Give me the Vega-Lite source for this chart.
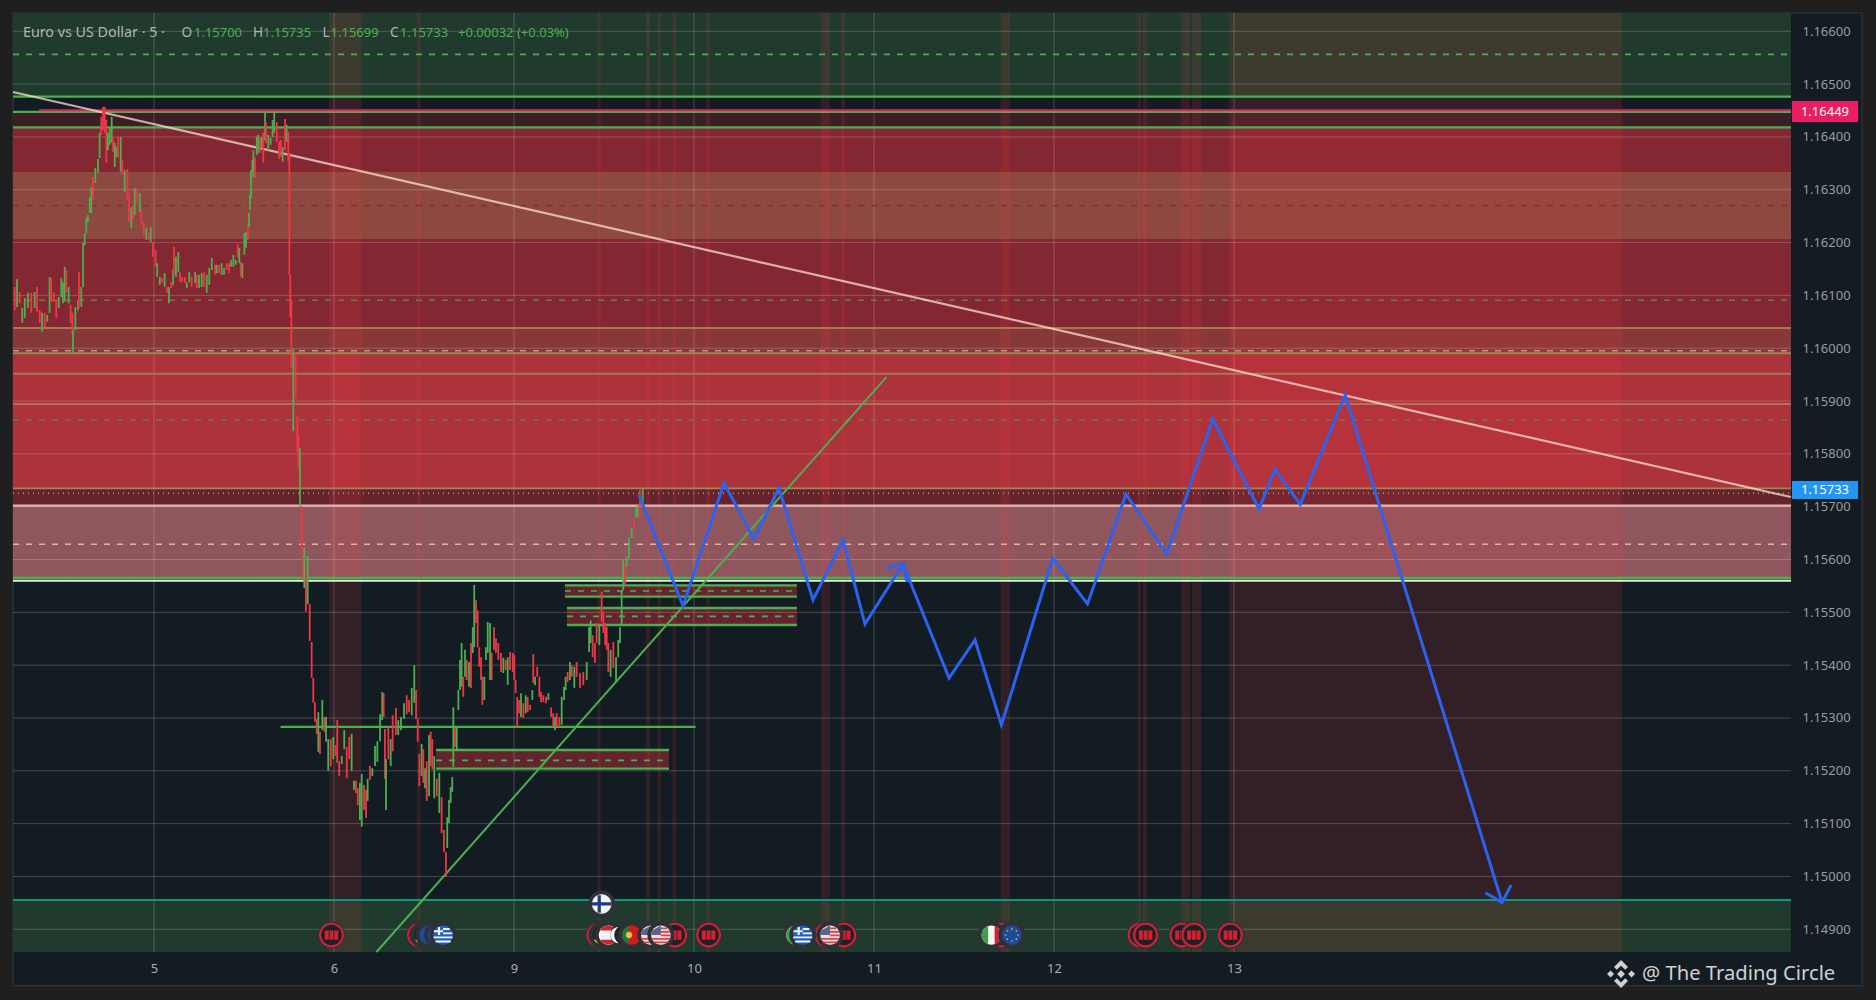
{
"$schema":"https://vega.github.io/schema/vega-lite/v6.json",
"width":1778,"height":939,
"autosize":"none",
"padding":{"left":13,"top":13,"right":85,"bottom":48},
"background":"#1f1f1f",
"config":{"view":{"stroke":null},"font":"Noto Sans"},
"resolve":{"scale":{"color":"independent"}},
"datasets":{
"panel":[{"x1":-0.7833,"x2":9.489,"y1":1.166346,"y2":1.14793}],
"zones":[
{"x1":-0.7833,"x2":9.0944,"y1":1.166346,"y2":1.164762,"zone":"green"},
{"x1":-0.7833,"x2":9.0944,"y1":1.164473,"y2":1.16418,"zone":"dark"},
{"x1":-0.7833,"x2":9.0944,"y1":1.16418,"y2":1.163337,"zone":"red"},
{"x1":-0.7833,"x2":9.0944,"y1":1.163337,"y2":1.162068,"zone":"tan"},
{"x1":-0.7833,"x2":9.0944,"y1":1.162068,"y2":1.160383,"zone":"red"},
{"x1":-0.7833,"x2":9.0944,"y1":1.160383,"y2":1.159904,"zone":"mid"},
{"x1":-0.7833,"x2":9.0944,"y1":1.159904,"y2":1.157348,"zone":"bright"},
{"x1":-0.7833,"x2":9.0944,"y1":1.157348,"y2":1.15702,"zone":"wine"},
{"x1":-0.7833,"x2":9.0944,"y1":1.15702,"y2":1.15565,"zone":"pink"},
{"x1":-0.7833,"x2":9.0944,"y1":1.149554,"y2":1.14857,"zone":"green"},
{"x1":2.283,"x2":3.572,"y1":1.155512,"y2":1.155296,"zone":"wine"},
{"x1":2.294,"x2":3.572,"y1":1.155082,"y2":1.15476,"zone":"wine"},
{"x1":1.567,"x2":2.861,"y1":1.152394,"y2":1.15204,"zone":"wine"}
],
"sessions":[
{"x1":0.972,"x2":1.153},{"x1":1.461,"x2":1.481},{"x1":2.464,"x2":2.481},{"x1":2.733,"x2":2.756},
{"x1":2.797,"x2":2.817},{"x1":2.881,"x2":2.9},{"x1":3.069,"x2":3.089},{"x1":3.706,"x2":3.756},
{"x1":3.817,"x2":3.839},{"x1":4.704,"x2":4.756},{"x1":5.465,"x2":5.483},{"x1":5.494,"x2":5.517},
{"x1":5.706,"x2":5.756},{"x1":5.767,"x2":5.817},{"x1":5.972,"x2":8.156}
],
"pricegrid":[{"p":1.149},{"p":1.15},{"p":1.151},{"p":1.152},{"p":1.153},{"p":1.154},{"p":1.155},{"p":1.156},{"p":1.157},{"p":1.158},{"p":1.159},{"p":1.16},{"p":1.161},{"p":1.162},{"p":1.163},{"p":1.164},{"p":1.165},{"p":1.166}],
"daygrid":[{"t":0},{"t":1},{"t":2},{"t":3},{"t":4},{"t":5},{"t":6}],
"levels":[
{"x1":-0.7833,"x2":9.0944,"p":1.164762,"kind":"green"},
{"x1":-0.7833,"x2":9.0944,"p":1.164473,"kind":"thin"},
{"x1":-0.7833,"x2":9.0944,"p":1.16418,"kind":"thin"},
{"x1":-0.639,"x2":9.0944,"p":1.164505,"kind":"pink"},
{"x1":-0.7833,"x2":9.0944,"p":1.149554,"kind":"teal"},
{"x1":-0.7833,"x2":9.0944,"p":1.15702,"kind":"shell"},
{"x1":-0.7833,"x2":9.0944,"p":1.15565,"kind":"green"},
{"x1":-0.7833,"x2":9.0944,"p":1.1556,"kind":"mint"},
{"x1":-0.7833,"x2":9.0944,"p":1.160383,"kind":"tan"},
{"x1":-0.7833,"x2":9.0944,"p":1.159904,"kind":"olive"},
{"x1":-0.7833,"x2":9.0944,"p":1.159518,"kind":"tan"},
{"x1":-0.7833,"x2":9.0944,"p":1.158945,"kind":"tan"},
{"x1":-0.7833,"x2":9.0944,"p":1.157348,"kind":"olive"},
{"x1":-0.7833,"x2":9.0944,"p":1.157254,"kind":"dot"},
{"x1":-0.7833,"x2":9.0944,"p":1.165565,"kind":"dashgreen"},
{"x1":-0.7833,"x2":9.0944,"p":1.162699,"kind":"dashred"},
{"x1":-0.7833,"x2":9.0944,"p":1.160908,"kind":"dasholive"},
{"x1":-0.7833,"x2":9.0944,"p":1.158642,"kind":"dasholive"},
{"x1":-0.7833,"x2":9.0944,"p":1.159953,"kind":"dashrose"},
{"x1":-0.7833,"x2":9.0944,"p":1.15629,"kind":"dashpeach"},
{"x1":2.283,"x2":3.572,"p":1.155512,"kind":"green"},
{"x1":2.283,"x2":3.572,"p":1.155296,"kind":"green"},
{"x1":2.283,"x2":3.572,"p":1.155404,"kind":"dashgreen"},
{"x1":2.294,"x2":3.572,"p":1.155082,"kind":"green"},
{"x1":2.294,"x2":3.572,"p":1.15476,"kind":"green"},
{"x1":2.294,"x2":3.572,"p":1.154925,"kind":"dashgreen"},
{"x1":1.567,"x2":2.861,"p":1.152394,"kind":"green"},
{"x1":1.567,"x2":2.861,"p":1.15204,"kind":"green"},
{"x1":1.567,"x2":2.861,"p":1.152199,"kind":"dashgreen"},
{"x1":0.703,"x2":3.009,"p":1.15283,"kind":"green"}
],
"resistance":[{"t":-0.7833,"p":1.164851},{"t":9.0944,"p":1.157183}],
"support":[{"t":1.236,"p":1.14857},{"t":4.07,"p":1.159459}],
"candles":[
{"t":-0.774,"hi":1.16116,"lo":1.16072,"dir":"d"},{"t":-0.761,"hi":1.16131,"lo":1.16078,"dir":"u"},{"t":-0.746,"hi":1.16106,"lo":1.16085,"dir":"d"},{"t":-0.732,"hi":1.16076,"lo":1.16048,"dir":"u"},{"t":-0.718,"hi":1.16095,"lo":1.16057,"dir":"u"},{"t":-0.7,"hi":1.16105,"lo":1.16076,"dir":"u"},{"t":-0.682,"hi":1.16105,"lo":1.16067,"dir":"d"},{"t":-0.663,"hi":1.16106,"lo":1.16076,"dir":"u"},{"t":-0.65,"hi":1.16116,"lo":1.16069,"dir":"d"},{"t":-0.635,"hi":1.16072,"lo":1.16048,"dir":"d"},
{"t":-0.622,"hi":1.16067,"lo":1.16031,"dir":"u"},{"t":-0.607,"hi":1.16067,"lo":1.1604,"dir":"d"},{"t":-0.593,"hi":1.16063,"lo":1.1605,"dir":"u"},{"t":-0.58,"hi":1.16135,"lo":1.16067,"dir":"u"},{"t":-0.571,"hi":1.16133,"lo":1.16088,"dir":"d"},{"t":-0.557,"hi":1.16106,"lo":1.16088,"dir":"d"},{"t":-0.543,"hi":1.16091,"lo":1.16057,"dir":"d"},{"t":-0.529,"hi":1.16097,"lo":1.16076,"dir":"u"},{"t":-0.515,"hi":1.16133,"lo":1.16097,"dir":"u"},{"t":-0.506,"hi":1.16125,"lo":1.16085,"dir":"u"},
{"t":-0.496,"hi":1.16154,"lo":1.16088,"dir":"u"},{"t":-0.487,"hi":1.16148,"lo":1.16105,"dir":"d"},{"t":-0.474,"hi":1.16116,"lo":1.16085,"dir":"u"},{"t":-0.463,"hi":1.16082,"lo":1.16048,"dir":"d"},{"t":-0.454,"hi":1.16067,"lo":1.16029,"dir":"d"},{"t":-0.45,"hi":1.16034,"lo":1.15991,"dir":"u"},{"t":-0.437,"hi":1.16078,"lo":1.16034,"dir":"u"},{"t":-0.422,"hi":1.16091,"lo":1.16072,"dir":"u"},{"t":-0.417,"hi":1.16144,"lo":1.16076,"dir":"d"},{"t":-0.404,"hi":1.16116,"lo":1.16078,"dir":"u"},
{"t":-0.394,"hi":1.16199,"lo":1.16116,"dir":"u"},{"t":-0.385,"hi":1.16218,"lo":1.16195,"dir":"u"},{"t":-0.376,"hi":1.16246,"lo":1.16218,"dir":"u"},{"t":-0.367,"hi":1.16252,"lo":1.16239,"dir":"u"},{"t":-0.357,"hi":1.16286,"lo":1.16256,"dir":"u"},{"t":-0.348,"hi":1.16305,"lo":1.16256,"dir":"u"},{"t":-0.339,"hi":1.16324,"lo":1.16281,"dir":"d"},{"t":-0.326,"hi":1.16341,"lo":1.16313,"dir":"u"},{"t":-0.311,"hi":1.16358,"lo":1.16332,"dir":"u"},{"t":-0.302,"hi":1.16408,"lo":1.1636,"dir":"u"},
{"t":-0.293,"hi":1.16438,"lo":1.16404,"dir":"d"},{"t":-0.283,"hi":1.16457,"lo":1.16413,"dir":"d"},{"t":-0.274,"hi":1.16457,"lo":1.16408,"dir":"d"},{"t":-0.265,"hi":1.16432,"lo":1.16351,"dir":"d"},{"t":-0.256,"hi":1.16408,"lo":1.16375,"dir":"u"},{"t":-0.246,"hi":1.16417,"lo":1.16385,"dir":"u"},{"t":-0.235,"hi":1.16438,"lo":1.16389,"dir":"u"},{"t":-0.228,"hi":1.164,"lo":1.16372,"dir":"d"},{"t":-0.218,"hi":1.16389,"lo":1.16343,"dir":"u"},{"t":-0.209,"hi":1.16381,"lo":1.16362,"dir":"u"},
{"t":-0.2,"hi":1.164,"lo":1.1636,"dir":"d"},{"t":-0.185,"hi":1.164,"lo":1.16334,"dir":"u"},{"t":-0.176,"hi":1.16356,"lo":1.16328,"dir":"d"},{"t":-0.163,"hi":1.16337,"lo":1.16296,"dir":"u"},{"t":-0.148,"hi":1.16339,"lo":1.16281,"dir":"d"},{"t":-0.139,"hi":1.16294,"lo":1.16239,"dir":"d"},{"t":-0.126,"hi":1.16267,"lo":1.16228,"dir":"u"},{"t":-0.117,"hi":1.16271,"lo":1.16243,"dir":"d"},{"t":-0.107,"hi":1.16303,"lo":1.16252,"dir":"u"},{"t":-0.094,"hi":1.16303,"lo":1.16275,"dir":"d"},
{"t":-0.079,"hi":1.16294,"lo":1.16258,"dir":"u"},{"t":-0.07,"hi":1.16262,"lo":1.16233,"dir":"d"},{"t":-0.057,"hi":1.16239,"lo":1.16214,"dir":"d"},{"t":-0.043,"hi":1.16228,"lo":1.16205,"dir":"u"},{"t":-0.029,"hi":1.1622,"lo":1.16205,"dir":"d"},{"t":-0.018,"hi":1.16229,"lo":1.16201,"dir":"u"},{"t":-0.006,"hi":1.16201,"lo":1.16173,"dir":"d"},{"t":0.009,"hi":1.16186,"lo":1.16154,"dir":"d"},{"t":0.018,"hi":1.16161,"lo":1.16135,"dir":"u"},{"t":0.032,"hi":1.16135,"lo":1.1612,"dir":"u"},
{"t":0.044,"hi":1.16133,"lo":1.16124,"dir":"d"},{"t":0.059,"hi":1.16142,"lo":1.16116,"dir":"u"},{"t":0.072,"hi":1.16116,"lo":1.16105,"dir":"d"},{"t":0.083,"hi":1.16116,"lo":1.16085,"dir":"u"},{"t":0.096,"hi":1.16125,"lo":1.16114,"dir":"d"},{"t":0.106,"hi":1.16148,"lo":1.1612,"dir":"u"},{"t":0.111,"hi":1.16192,"lo":1.16139,"dir":"d"},{"t":0.122,"hi":1.16173,"lo":1.16135,"dir":"u"},{"t":0.135,"hi":1.16182,"lo":1.16144,"dir":"u"},{"t":0.144,"hi":1.16144,"lo":1.16125,"dir":"d"},
{"t":0.157,"hi":1.16135,"lo":1.16125,"dir":"d"},{"t":0.172,"hi":1.16135,"lo":1.16124,"dir":"d"},{"t":0.182,"hi":1.16125,"lo":1.16114,"dir":"u"},{"t":0.196,"hi":1.16144,"lo":1.16125,"dir":"u"},{"t":0.209,"hi":1.16135,"lo":1.16116,"dir":"d"},{"t":0.228,"hi":1.16144,"lo":1.16124,"dir":"u"},{"t":0.237,"hi":1.16139,"lo":1.16114,"dir":"d"},{"t":0.25,"hi":1.16139,"lo":1.16114,"dir":"u"},{"t":0.265,"hi":1.16142,"lo":1.16116,"dir":"u"},{"t":0.278,"hi":1.16144,"lo":1.16116,"dir":"d"},
{"t":0.293,"hi":1.16139,"lo":1.16105,"dir":"u"},{"t":0.307,"hi":1.16152,"lo":1.1612,"dir":"u"},{"t":0.321,"hi":1.16171,"lo":1.16148,"dir":"u"},{"t":0.339,"hi":1.16158,"lo":1.16139,"dir":"d"},{"t":0.348,"hi":1.16158,"lo":1.16142,"dir":"u"},{"t":0.361,"hi":1.16158,"lo":1.16142,"dir":"d"},{"t":0.376,"hi":1.16161,"lo":1.16139,"dir":"u"},{"t":0.389,"hi":1.16152,"lo":1.16139,"dir":"u"},{"t":0.404,"hi":1.16161,"lo":1.16148,"dir":"d"},{"t":0.417,"hi":1.16161,"lo":1.16142,"dir":"d"},
{"t":0.428,"hi":1.16167,"lo":1.16154,"dir":"u"},{"t":0.441,"hi":1.16177,"lo":1.16154,"dir":"u"},{"t":0.454,"hi":1.16167,"lo":1.16158,"dir":"u"},{"t":0.465,"hi":1.16197,"lo":1.16171,"dir":"d"},{"t":0.474,"hi":1.1619,"lo":1.16161,"dir":"u"},{"t":0.482,"hi":1.16163,"lo":1.16135,"dir":"d"},{"t":0.491,"hi":1.16161,"lo":1.16133,"dir":"u"},{"t":0.502,"hi":1.16218,"lo":1.16177,"dir":"u"},{"t":0.511,"hi":1.1622,"lo":1.1619,"dir":"u"},{"t":0.521,"hi":1.16233,"lo":1.16205,"dir":"d"},
{"t":0.528,"hi":1.16256,"lo":1.16229,"dir":"u"},{"t":0.533,"hi":1.1629,"lo":1.16262,"dir":"u"},{"t":0.539,"hi":1.16337,"lo":1.16284,"dir":"u"},{"t":0.546,"hi":1.16356,"lo":1.16334,"dir":"u"},{"t":0.552,"hi":1.16375,"lo":1.16324,"dir":"u"},{"t":0.561,"hi":1.16362,"lo":1.16322,"dir":"d"},{"t":0.571,"hi":1.164,"lo":1.16366,"dir":"u"},{"t":0.579,"hi":1.16404,"lo":1.1637,"dir":"u"},{"t":0.589,"hi":1.16398,"lo":1.1637,"dir":"d"},{"t":0.598,"hi":1.164,"lo":1.16381,"dir":"u"},
{"t":0.607,"hi":1.16408,"lo":1.16351,"dir":"d"},{"t":0.617,"hi":1.16446,"lo":1.16394,"dir":"u"},{"t":0.622,"hi":1.16428,"lo":1.16389,"dir":"d"},{"t":0.635,"hi":1.16404,"lo":1.16375,"dir":"u"},{"t":0.648,"hi":1.16398,"lo":1.16385,"dir":"u"},{"t":0.659,"hi":1.16432,"lo":1.164,"dir":"u"},{"t":0.668,"hi":1.16446,"lo":1.16408,"dir":"u"},{"t":0.682,"hi":1.16428,"lo":1.16391,"dir":"d"},{"t":0.694,"hi":1.16391,"lo":1.16358,"dir":"d"},{"t":0.704,"hi":1.16394,"lo":1.16362,"dir":"d"},
{"t":0.715,"hi":1.16381,"lo":1.16353,"dir":"u"},{"t":0.728,"hi":1.16434,"lo":1.16375,"dir":"d"},{"t":0.737,"hi":1.16423,"lo":1.16391,"dir":"u"},{"t":0.746,"hi":1.16409,"lo":1.16353,"dir":"d"},{"t":0.752,"hi":1.1637,"lo":1.16139,"dir":"d"},{"t":0.757,"hi":1.16139,"lo":1.16059,"dir":"d"},{"t":0.763,"hi":1.16091,"lo":1.15963,"dir":"d"},{"t":0.774,"hi":1.15999,"lo":1.15843,"dir":"u"},{"t":0.787,"hi":1.15993,"lo":1.15904,"dir":"d"},{"t":0.796,"hi":1.15872,"lo":1.15804,"dir":"d"},
{"t":0.802,"hi":1.15836,"lo":1.15773,"dir":"d"},{"t":0.811,"hi":1.15811,"lo":1.15701,"dir":"u"},{"t":0.821,"hi":1.15701,"lo":1.15612,"dir":"d"},{"t":0.829,"hi":1.15612,"lo":1.15561,"dir":"d"},{"t":0.835,"hi":1.15624,"lo":1.15546,"dir":"u"},{"t":0.844,"hi":1.1558,"lo":1.15501,"dir":"d"},{"t":0.854,"hi":1.15607,"lo":1.15516,"dir":"u"},{"t":0.865,"hi":1.15516,"lo":1.15446,"dir":"d"},{"t":0.876,"hi":1.15444,"lo":1.15376,"dir":"d"},{"t":0.885,"hi":1.15376,"lo":1.15329,"dir":"d"},
{"t":0.894,"hi":1.1533,"lo":1.15293,"dir":"d"},{"t":0.904,"hi":1.15298,"lo":1.1527,"dir":"d"},{"t":0.913,"hi":1.15311,"lo":1.15236,"dir":"u"},{"t":0.922,"hi":1.15274,"lo":1.15232,"dir":"d"},{"t":0.935,"hi":1.15334,"lo":1.15277,"dir":"u"},{"t":0.946,"hi":1.15302,"lo":1.15274,"dir":"d"},{"t":0.956,"hi":1.15302,"lo":1.15255,"dir":"u"},{"t":0.968,"hi":1.1526,"lo":1.152,"dir":"u"},{"t":0.982,"hi":1.1526,"lo":1.15209,"dir":"d"},{"t":0.996,"hi":1.15264,"lo":1.15222,"dir":"u"},
{"t":1.009,"hi":1.15249,"lo":1.15228,"dir":"d"},{"t":1.018,"hi":1.15296,"lo":1.15215,"dir":"d"},{"t":1.029,"hi":1.15218,"lo":1.1519,"dir":"d"},{"t":1.043,"hi":1.15228,"lo":1.15213,"dir":"u"},{"t":1.057,"hi":1.15277,"lo":1.15241,"dir":"u"},{"t":1.071,"hi":1.15245,"lo":1.15186,"dir":"d"},{"t":1.085,"hi":1.15264,"lo":1.15222,"dir":"d"},{"t":1.098,"hi":1.1527,"lo":1.152,"dir":"u"},{"t":1.111,"hi":1.15181,"lo":1.15164,"dir":"u"},{"t":1.122,"hi":1.15181,"lo":1.15158,"dir":"d"},
{"t":1.132,"hi":1.15167,"lo":1.15135,"dir":"d"},{"t":1.144,"hi":1.15177,"lo":1.15107,"dir":"u"},{"t":1.154,"hi":1.15194,"lo":1.15094,"dir":"u"},{"t":1.167,"hi":1.15173,"lo":1.15126,"dir":"d"},{"t":1.178,"hi":1.15164,"lo":1.15111,"dir":"d"},{"t":1.187,"hi":1.15185,"lo":1.15143,"dir":"u"},{"t":1.2,"hi":1.15209,"lo":1.15183,"dir":"d"},{"t":1.213,"hi":1.15205,"lo":1.1519,"dir":"u"},{"t":1.228,"hi":1.15247,"lo":1.15209,"dir":"u"},{"t":1.241,"hi":1.15256,"lo":1.15217,"dir":"u"},
{"t":1.256,"hi":1.15307,"lo":1.15256,"dir":"u"},{"t":1.268,"hi":1.15349,"lo":1.15296,"dir":"u"},{"t":1.276,"hi":1.15347,"lo":1.15302,"dir":"d"},{"t":1.283,"hi":1.15279,"lo":1.15185,"dir":"d"},{"t":1.289,"hi":1.15222,"lo":1.15126,"dir":"u"},{"t":1.302,"hi":1.15283,"lo":1.15222,"dir":"d"},{"t":1.315,"hi":1.1526,"lo":1.15209,"dir":"u"},{"t":1.326,"hi":1.15305,"lo":1.15237,"dir":"d"},{"t":1.344,"hi":1.15319,"lo":1.15268,"dir":"d"},{"t":1.357,"hi":1.15296,"lo":1.15268,"dir":"u"},
{"t":1.372,"hi":1.15302,"lo":1.15277,"dir":"u"},{"t":1.389,"hi":1.15328,"lo":1.15298,"dir":"u"},{"t":1.404,"hi":1.15343,"lo":1.15307,"dir":"d"},{"t":1.417,"hi":1.15334,"lo":1.15311,"dir":"d"},{"t":1.432,"hi":1.15357,"lo":1.15305,"dir":"u"},{"t":1.446,"hi":1.154,"lo":1.15329,"dir":"u"},{"t":1.456,"hi":1.15353,"lo":1.15298,"dir":"d"},{"t":1.465,"hi":1.15298,"lo":1.15255,"dir":"d"},{"t":1.474,"hi":1.15232,"lo":1.15171,"dir":"d"},{"t":1.487,"hi":1.15251,"lo":1.1519,"dir":"u"},
{"t":1.496,"hi":1.15241,"lo":1.15177,"dir":"d"},{"t":1.506,"hi":1.15205,"lo":1.15167,"dir":"u"},{"t":1.515,"hi":1.15218,"lo":1.15143,"dir":"d"},{"t":1.528,"hi":1.15268,"lo":1.15152,"dir":"u"},{"t":1.537,"hi":1.15274,"lo":1.15209,"dir":"d"},{"t":1.546,"hi":1.1526,"lo":1.15203,"dir":"d"},{"t":1.557,"hi":1.15228,"lo":1.15148,"dir":"u"},{"t":1.571,"hi":1.15185,"lo":1.15152,"dir":"d"},{"t":1.585,"hi":1.15196,"lo":1.1512,"dir":"u"},{"t":1.598,"hi":1.1515,"lo":1.15082,"dir":"d"},
{"t":1.611,"hi":1.15088,"lo":1.15046,"dir":"d"},{"t":1.622,"hi":1.15046,"lo":1.14999,"dir":"d"},{"t":1.629,"hi":1.15112,"lo":1.15054,"dir":"u"},{"t":1.639,"hi":1.15145,"lo":1.15101,"dir":"u"},{"t":1.648,"hi":1.15169,"lo":1.15139,"dir":"u"},{"t":1.657,"hi":1.15188,"lo":1.1516,"dir":"u"},{"t":1.663,"hi":1.1532,"lo":1.15207,"dir":"u"},{"t":1.672,"hi":1.15281,"lo":1.15245,"dir":"d"},{"t":1.682,"hi":1.15283,"lo":1.15239,"dir":"u"},{"t":1.691,"hi":1.15353,"lo":1.15315,"dir":"u"},
{"t":1.7,"hi":1.1541,"lo":1.15353,"dir":"u"},{"t":1.709,"hi":1.15442,"lo":1.15359,"dir":"u"},{"t":1.718,"hi":1.15378,"lo":1.1534,"dir":"d"},{"t":1.728,"hi":1.15429,"lo":1.15378,"dir":"u"},{"t":1.737,"hi":1.1541,"lo":1.15372,"dir":"d"},{"t":1.75,"hi":1.15406,"lo":1.15359,"dir":"u"},{"t":1.761,"hi":1.15442,"lo":1.15357,"dir":"d"},{"t":1.771,"hi":1.15472,"lo":1.15423,"dir":"u"},{"t":1.779,"hi":1.15552,"lo":1.15434,"dir":"u"},{"t":1.789,"hi":1.15523,"lo":1.1548,"dir":"d"},
{"t":1.798,"hi":1.15504,"lo":1.15434,"dir":"d"},{"t":1.807,"hi":1.15434,"lo":1.15397,"dir":"d"},{"t":1.817,"hi":1.15415,"lo":1.15372,"dir":"d"},{"t":1.824,"hi":1.15378,"lo":1.15325,"dir":"d"},{"t":1.835,"hi":1.15378,"lo":1.15334,"dir":"u"},{"t":1.844,"hi":1.15434,"lo":1.1541,"dir":"u"},{"t":1.854,"hi":1.15482,"lo":1.15423,"dir":"u"},{"t":1.867,"hi":1.1548,"lo":1.15372,"dir":"u"},{"t":1.876,"hi":1.15423,"lo":1.15372,"dir":"d"},{"t":1.889,"hi":1.15472,"lo":1.15429,"dir":"d"},
{"t":1.9,"hi":1.15451,"lo":1.15423,"dir":"d"},{"t":1.913,"hi":1.15442,"lo":1.1541,"dir":"d"},{"t":1.928,"hi":1.15423,"lo":1.15387,"dir":"d"},{"t":1.941,"hi":1.15414,"lo":1.15385,"dir":"u"},{"t":1.954,"hi":1.1541,"lo":1.15391,"dir":"d"},{"t":1.965,"hi":1.15415,"lo":1.15363,"dir":"u"},{"t":1.978,"hi":1.15425,"lo":1.15391,"dir":"d"},{"t":1.993,"hi":1.15423,"lo":1.15387,"dir":"d"},{"t":2.002,"hi":1.15419,"lo":1.15372,"dir":"d"},{"t":2.009,"hi":1.15372,"lo":1.15347,"dir":"d"},
{"t":2.018,"hi":1.1534,"lo":1.15283,"dir":"d"},{"t":2.028,"hi":1.15334,"lo":1.15309,"dir":"d"},{"t":2.039,"hi":1.15347,"lo":1.15302,"dir":"u"},{"t":2.052,"hi":1.15328,"lo":1.153,"dir":"d"},{"t":2.065,"hi":1.15343,"lo":1.15309,"dir":"u"},{"t":2.076,"hi":1.1534,"lo":1.15311,"dir":"d"},{"t":2.089,"hi":1.15325,"lo":1.15315,"dir":"d"},{"t":2.102,"hi":1.15353,"lo":1.15334,"dir":"u"},{"t":2.107,"hi":1.15421,"lo":1.15366,"dir":"d"},{"t":2.117,"hi":1.15378,"lo":1.15362,"dir":"u"},
{"t":2.129,"hi":1.15397,"lo":1.15378,"dir":"d"},{"t":2.141,"hi":1.15378,"lo":1.1534,"dir":"d"},{"t":2.15,"hi":1.15349,"lo":1.1533,"dir":"d"},{"t":2.163,"hi":1.15343,"lo":1.1533,"dir":"d"},{"t":2.178,"hi":1.1534,"lo":1.15328,"dir":"d"},{"t":2.191,"hi":1.15347,"lo":1.15334,"dir":"u"},{"t":2.206,"hi":1.1532,"lo":1.15302,"dir":"d"},{"t":2.218,"hi":1.15309,"lo":1.15283,"dir":"d"},{"t":2.228,"hi":1.15302,"lo":1.15277,"dir":"u"},{"t":2.237,"hi":1.15309,"lo":1.15283,"dir":"d"},
{"t":2.252,"hi":1.15302,"lo":1.15283,"dir":"d"},{"t":2.265,"hi":1.1534,"lo":1.15287,"dir":"u"},{"t":2.278,"hi":1.15359,"lo":1.15334,"dir":"u"},{"t":2.287,"hi":1.15378,"lo":1.15353,"dir":"u"},{"t":2.298,"hi":1.15387,"lo":1.15368,"dir":"d"},{"t":2.311,"hi":1.15406,"lo":1.15372,"dir":"u"},{"t":2.321,"hi":1.154,"lo":1.15378,"dir":"d"},{"t":2.335,"hi":1.15397,"lo":1.15357,"dir":"u"},{"t":2.348,"hi":1.15406,"lo":1.15378,"dir":"d"},{"t":2.367,"hi":1.15385,"lo":1.15357,"dir":"d"},
{"t":2.385,"hi":1.15387,"lo":1.15362,"dir":"d"},{"t":2.404,"hi":1.15406,"lo":1.15372,"dir":"u"},{"t":2.417,"hi":1.15472,"lo":1.15425,"dir":"u"},{"t":2.426,"hi":1.15485,"lo":1.15442,"dir":"u"},{"t":2.437,"hi":1.15457,"lo":1.15415,"dir":"d"},{"t":2.45,"hi":1.15442,"lo":1.15404,"dir":"d"},{"t":2.459,"hi":1.1548,"lo":1.15442,"dir":"d"},{"t":2.474,"hi":1.15476,"lo":1.15438,"dir":"u"},{"t":2.487,"hi":1.15539,"lo":1.15482,"dir":"d"},{"t":2.496,"hi":1.15501,"lo":1.15461,"dir":"d"},
{"t":2.506,"hi":1.1548,"lo":1.15438,"dir":"d"},{"t":2.515,"hi":1.15472,"lo":1.15429,"dir":"d"},{"t":2.524,"hi":1.15442,"lo":1.15387,"dir":"d"},{"t":2.537,"hi":1.15429,"lo":1.15378,"dir":"u"},{"t":2.552,"hi":1.15444,"lo":1.15395,"dir":"d"},{"t":2.567,"hi":1.15415,"lo":1.15368,"dir":"u"},{"t":2.579,"hi":1.15448,"lo":1.15415,"dir":"u"},{"t":2.589,"hi":1.15472,"lo":1.15442,"dir":"u"},{"t":2.598,"hi":1.15542,"lo":1.15476,"dir":"u"},{"t":2.607,"hi":1.15599,"lo":1.15542,"dir":"u"},
{"t":2.617,"hi":1.15593,"lo":1.15552,"dir":"d"},{"t":2.626,"hi":1.15605,"lo":1.15586,"dir":"u"},{"t":2.639,"hi":1.15641,"lo":1.15603,"dir":"u"},{"t":2.654,"hi":1.1566,"lo":1.15641,"dir":"u"},{"t":2.667,"hi":1.15679,"lo":1.15656,"dir":"d"},{"t":2.678,"hi":1.15699,"lo":1.15679,"dir":"u"},{"t":2.687,"hi":1.15703,"lo":1.1568,"dir":"u"},{"t":2.7,"hi":1.15732,"lo":1.15679,"dir":"d"},{"t":2.715,"hi":1.15735,"lo":1.15699,"dir":"u"}
],
"forecast":[
{"t":2.694,"p":1.157221,"seg":"path"},{"t":2.939,"p":1.15512,"seg":"path"},{"t":3.167,"p":1.157448,"seg":"path"},{"t":3.333,"p":1.156388,"seg":"path"},{"t":3.472,"p":1.157354,"seg":"path"},{"t":3.661,"p":1.155233,"seg":"path"},{"t":3.828,"p":1.156369,"seg":"path"},{"t":3.95,"p":1.154779,"seg":"path"},{"t":4.161,"p":1.155915,"seg":"path"},{"t":4.417,"p":1.153757,"seg":"path"},{"t":4.561,"p":1.154476,"seg":"path"},{"t":4.708,"p":1.152867,"seg":"path"},{"t":4.993,"p":1.156023,"seg":"path"},{"t":5.186,"p":1.155158,"seg":"path"},{"t":5.4,"p":1.157234,"seg":"path"},{"t":5.626,"p":1.156104,"seg":"path"},{"t":5.882,"p":1.15866,"seg":"path"},{"t":6.139,"p":1.156956,"seg":"path"},{"t":6.228,"p":1.157713,"seg":"path"},{"t":6.368,"p":1.157045,"seg":"path"},{"t":6.618,"p":1.159114,"seg":"path"},{"t":7.489,"p":1.14951,"seg":"path"},
{"t":4.067,"p":1.155839,"seg":"head1"},{"t":4.161,"p":1.155915,"seg":"head1"},{"t":4.183,"p":1.155574,"seg":"head1"},
{"t":7.396,"p":1.149692,"seg":"head2"},{"t":7.489,"p":1.14951,"seg":"head2"},{"t":7.54,"p":1.149837,"seg":"head2"}
],
"tags":[
{"x1":9.1,"x2":9.467,"y1":1.164681,"y2":1.164283,"tag":"1.16449","tc":9.283,"pc":1.16448},
{"x1":9.1,"x2":9.467,"y1":1.157487,"y2":1.157146,"tag":"1.15733","tc":9.283,"pc":1.15732}
],
"header":[
{"t":-0.728,"p":1.165968,"label":"Euro vs US Dollar · 5 ·","tone":"title"},
{"t":0.153,"p":1.165968,"label":"O","tone":"gray"},
{"t":0.222,"p":1.165968,"label":"1.15700","tone":"green"},
{"t":0.55,"p":1.165968,"label":"H","tone":"gray"},
{"t":0.606,"p":1.165968,"label":"1.15735","tone":"green"},
{"t":0.936,"p":1.165968,"label":"L","tone":"gray"},
{"t":0.981,"p":1.165968,"label":"1.15699","tone":"green"},
{"t":1.311,"p":1.165968,"label":"C","tone":"gray"},
{"t":1.367,"p":1.165968,"label":"1.15733","tone":"green"},
{"t":1.689,"p":1.165968,"label":"+0.00032 (+0.03%)","tone":"green"}
],
"events":[
{"t":0.986,"p":1.14889,"parts":["ring","redring","core","bars"]},
{"t":1.475,"p":1.14889,"parts":["ring","redring","core","bars"]},
{"t":1.497,"p":1.14889,"parts":["ring","debase","deyellow"]},
{"t":1.528,"p":1.14889,"parts":["ring","eubase"]},
{"t":1.576,"p":1.14889,"parts":["ring","eubase"]},
{"t":1.606,"p":1.14889,"parts":["ring","grbase","grwhite"]},
{"t":2.472,"p":1.14889,"parts":["ring","redring","core"]},
{"t":2.893,"p":1.14889,"parts":["ring","redring","core","bars"]},
{"t":2.489,"p":1.14889,"parts":["ring","debase","deyellow"]},
{"t":2.525,"p":1.14889,"parts":["ring","white","atred"]},
{"t":2.611,"p":1.14889,"parts":["ring","debase","crescent"]},
{"t":2.654,"p":1.14889,"parts":["ring","ptbase","ptgreen","ptgold"]},
{"t":2.76,"p":1.14889,"parts":["ring","usbase","usblue","usred"]},
{"t":2.816,"p":1.14889,"parts":["ring","usbase","usblue","usred"]},
{"t":2.487,"p":1.14948,"parts":["ring","white","ficross"]},
{"t":3.081,"p":1.14889,"parts":["ring","redring","core","bars"]},
{"t":3.738,"p":1.14889,"parts":["ring","redring","core","bars"]},
{"t":3.832,"p":1.14889,"parts":["ring","redring","core","bars"]},
{"t":3.566,"p":1.14889,"parts":["ring","white","itgreen","itred"]},
{"t":3.604,"p":1.14889,"parts":["ring","grbase","grwhite"]},
{"t":3.756,"p":1.14889,"parts":["ring","usbase","usblue","usred"]},
{"t":4.7,"p":1.14889,"parts":["ring","redring","core"]},
{"t":4.652,"p":1.14889,"parts":["ring","white","itgreen","itred"]},
{"t":4.766,"p":1.14889,"parts":["ring","eubase","eustars"]},
{"t":5.478,"p":1.14889,"parts":["ring","redring","core","bars"]},
{"t":5.509,"p":1.14889,"parts":["ring","redring","core","bars"]},
{"t":5.711,"p":1.14889,"parts":["ring","redring","core","bars"]},
{"t":5.777,"p":1.14889,"parts":["ring","redring","core","bars"]},
{"t":5.98,"p":1.14889,"parts":["ring","redring","core","bars"]}
]
},
"layer":[
{"data":{"name":"panel"},
 "mark":{"type":"rect","fill":"#141c23","stroke":"#2c3136","strokeWidth":1.5},
 "encoding":{
  "x":{"field":"x1","type":"quantitative","scale":{"domain":[-0.7833,9.0944],"nice":false,"zero":false},
   "axis":{"title":null,"values":[0,1,2,3,4,5,6],"labelExpr":"['5','6','9','10','11','12','13'][datum.value]","grid":false,"domain":false,"ticks":false,"labelPadding":10,"labelFontSize":13,"labelColor":"#a9abac","labelFont":"Noto Sans","zindex":1}},
  "x2":{"field":"x2"},
  "y":{"field":"y1","type":"quantitative","scale":{"domain":[1.14857,1.166346],"nice":false,"zero":false},
   "axis":{"title":null,"orient":"right","values":[1.149,1.15,1.151,1.152,1.153,1.154,1.155,1.156,1.157,1.158,1.159,1.16,1.161,1.162,1.163,1.164,1.165,1.166],"format":".5f","grid":false,"domain":false,"ticks":false,"labelPadding":11,"labelFontSize":13,"labelColor":"#9a9d9d","labelFont":"Noto Sans","zindex":1}},
  "y2":{"field":"y2"}}},
{"data":{"name":"zones"},
 "mark":{"type":"rect"},
 "encoding":{
  "x":{"field":"x1","type":"quantitative"},"x2":{"field":"x2"},
  "y":{"field":"y1","type":"quantitative"},"y2":{"field":"y2"},
  "color":{"field":"zone","type":"nominal","legend":null,"scale":{"domain":["green","dark","red","tan","mid","bright","wine","pink"],"range":["#203a2d","#3a2026","#832832","#8d483f","#873838","#ac323c","#64242e","#8f575d"]}}}},
{"data":{"name":"sessions"},
 "mark":{"type":"rect","color":"#ff3c3c","opacity":0.13},
 "encoding":{"x":{"field":"x1","type":"quantitative"},"x2":{"field":"x2"}}},
{"data":{"name":"pricegrid"},
 "mark":{"type":"rule","color":"#ffffff","opacity":0.2,"strokeWidth":1},
 "encoding":{"y":{"field":"p","type":"quantitative"}}},
{"data":{"name":"daygrid"},
 "mark":{"type":"rule","color":"#ffffff","opacity":0.2,"strokeWidth":1},
 "encoding":{"x":{"field":"t","type":"quantitative"}}},
{"data":{"name":"levels"},
 "mark":{"type":"rule"},
 "encoding":{
  "x":{"field":"x1","type":"quantitative"},"x2":{"field":"x2"},
  "y":{"field":"p","type":"quantitative"},
  "color":{"field":"kind","type":"nominal","legend":null,"scale":{"domain":["green","thin","pink","teal","shell","mint","tan","olive","dot","dashgreen","dashred","dasholive","dashrose","dashpeach"],"range":["#4caf50","#4caf50","#e91e63","#089981","#dfb5ad","#dff0dc","#ab7650","#9a8a50","#d06a70","#4caf50","#8a2f36","#6f7a45","#c49384","#e0b2a0"]}},
  "strokeWidth":{"field":"kind","type":"nominal","legend":null,"scale":{"domain":["green","thin","pink","teal","shell","mint","tan","olive","dot","dashgreen","dashred","dasholive","dashrose","dashpeach"],"range":[2.3,1.5,2.5,2,2.5,2.5,2,2.5,1,1,1.6,1,1,1]}},
  "strokeDash":{"field":"kind","type":"nominal","legend":null,"scale":{"domain":["green","thin","pink","teal","shell","mint","tan","olive","dot","dashgreen","dashred","dasholive","dashrose","dashpeach"],"range":[[1,0],[1,0],[1,0],[1,0],[1,0],[1,0],[1,0],[1,0],[1,4],[6,7],[6,7],[6,7],[6,7],[6,7]]}}}},
{"data":{"name":"resistance"},
 "mark":{"type":"line","color":"#ffe6d8","opacity":0.72,"strokeWidth":2.2},
 "encoding":{"x":{"field":"t","type":"quantitative"},"y":{"field":"p","type":"quantitative"}}},
{"data":{"name":"support"},
 "mark":{"type":"line","color":"#4caf50","strokeWidth":2},
 "encoding":{"x":{"field":"t","type":"quantitative"},"y":{"field":"p","type":"quantitative"}}},
{"data":{"name":"candles"},
 "mark":{"type":"rule","strokeWidth":1.8},
 "encoding":{
  "x":{"field":"t","type":"quantitative"},
  "y":{"field":"hi","type":"quantitative"},"y2":{"field":"lo"},
  "color":{"field":"dir","type":"nominal","legend":null,"scale":{"domain":["u","d"],"range":["#4caf50","#f23645"]}}}},
{"data":{"name":"forecast"},
 "mark":{"type":"line","color":"#2b62f0","strokeWidth":3,"strokeJoin":"miter"},
 "encoding":{"x":{"field":"t","type":"quantitative"},"y":{"field":"p","type":"quantitative"},"detail":{"field":"seg"}}},
{"data":{"name":"events"},
 "transform":[{"flatten":["parts"],"as":["part"]}],
 "mark":{"type":"point","filled":true,"size":729,"opacity":1},
 "encoding":{
  "x":{"field":"t","type":"quantitative"},"y":{"field":"p","type":"quantitative"},
  "color":{"field":"part","type":"nominal","legend":null,"scale":{
   "domain":["ring","redring","core","bars","white","grbase","grwhite","usbase","usblue","usred","ficross","atred","ptbase","ptgreen","ptgold","itgreen","itred","eubase","eustars","debase","deyellow","crescent"],
   "range":["#2e3236","#d32032","#1e2226","#d32032","#f4f4f4","#1e63b8","#f4f4f4","#f2dcdc","#5a6390","#d8434e","#1b3a82","#d3202f","#d01c1f","#1f7a3a","#e8c34a","#3f9e4a","#d32032","#1e4a9a","#e9c93f","#22262a","#e6b800","#f4f4f4"]}},
  "shape":{"field":"part","type":"nominal","legend":null,"scale":{
   "domain":["ring","redring","core","bars","white","grbase","grwhite","usbase","usblue","usred","ficross","atred","ptbase","ptgreen","ptgold","itgreen","itred","eubase","eustars","debase","deyellow","crescent"],
   "range":[
   "M-1,0A1,1 0 1,1 1,0A1,1 0 1,1 -1,0Z",
   "M-.92,0A.92,.92 0 1,1 .92,0A.92,.92 0 1,1 -.92,0Z",
   "M-.76,0A.76,.76 0 1,1 .76,0A.76,.76 0 1,1 -.76,0Z",
   "M-.5,-.34H-.2V.34H-.5ZM-.14,-.34H.14V.34H-.14ZM.2,-.34H.5V.34H.2Z",
   "M-.72,0A.72,.72 0 1,1 .72,0A.72,.72 0 1,1 -.72,0Z",
   "M-.72,0A.72,.72 0 1,1 .72,0A.72,.72 0 1,1 -.72,0Z",
   "M-.38,-.6H-.22V-.36H0V-.22H-.22V0H-.38V-.22H-.68V-.36H-.38ZM0,-.52H.48V-.38H0ZM0,-.2H.68V-.06H0ZM-.7,.1H.7V.24H-.7ZM-.56,.4H.56V.54H-.56Z",
   "M-.72,0A.72,.72 0 1,1 .72,0A.72,.72 0 1,1 -.72,0Z",
   "M-.62,-.36L0,-.72V0H-.72Z",
   "M0,-.56H.46V-.44H0ZM0,-.3H.66V-.18H0ZM0,-.04H.72V.08H0ZM-.7,.22H.7V.34H-.7ZM-.52,.48H.52V.6H-.52Z",
   "M-.3,-.65H-.06V-.12H.72V.12H-.06V.65H-.3V.12H-.72V-.12H-.3Z",
   "M-.62,-.34A.72,.72 0 0,1 .62,-.34ZM-.62,.34H.62A.72,.72 0 0,1 -.62,.34Z",
   "M-.72,0A.72,.72 0 1,1 .72,0A.72,.72 0 1,1 -.72,0Z",
   "M-.22,-.68A.72,.72 0 0,0 -.22,.68Z",
   "M-.44,0A.24,.24 0 1,1 .04,0A.24,.24 0 1,1 -.44,0Z",
   "M-.24,-.68A.72,.72 0 0,0 -.24,.68Z",
   "M.24,-.68A.72,.72 0 0,1 .24,.68Z",
   "M-.72,0A.72,.72 0 1,1 .72,0A.72,.72 0 1,1 -.72,0Z",
   "M-.05,-.5H.05V-.4H-.05ZM-.05,.4H.05V.5H-.05ZM-.5,-.05H-.4V.05H-.5ZM.4,-.05H.5V.05H.4ZM.28,-.36H.38V-.26H.28ZM-.38,-.36H-.28V-.26H-.38ZM.28,.26H.38V.36H.28ZM-.38,.26H-.28V.36H-.38Z",
   "M-.72,0A.72,.72 0 1,1 .72,0A.72,.72 0 1,1 -.72,0Z",
   "M-.62,.34H.62A.72,.72 0 0,1 -.62,.34Z",
   "M-.4,-.6A.72,.72 0 0,0 -.4,.6A.6,.6 0 0,1 -.4,-.6Z"
   ]}}}},
{"data":{"name":"tags"},
 "mark":{"type":"rect"},
 "encoding":{
  "x":{"field":"x1","type":"quantitative"},"x2":{"field":"x2"},
  "y":{"field":"y1","type":"quantitative"},"y2":{"field":"y2"},
  "color":{"field":"tag","type":"nominal","legend":null,"scale":{"domain":["1.16449","1.15733"],"range":["#e91e63","#2196f3"]}}}},
{"data":{"name":"tags"},
 "mark":{"type":"text","color":"#ffffff","fontSize":13,"font":"Noto Sans","align":"center","baseline":"middle"},
 "encoding":{"x":{"field":"tc","type":"quantitative"},"y":{"field":"pc","type":"quantitative"},"text":{"field":"tag"}}},
{"data":{"name":"header"},
 "mark":{"type":"text","font":"Noto Sans","align":"left","baseline":"middle"},
 "encoding":{"x":{"field":"t","type":"quantitative"},"y":{"field":"p","type":"quantitative"},"text":{"field":"label"},
  "size":{"field":"tone","type":"nominal","legend":null,"scale":{"domain":["title","gray","green"],"range":[14.3,13,13]}},
  "color":{"field":"tone","type":"nominal","legend":null,"scale":{"domain":["title","gray","green"],"range":["#b2b5b4","#b2b5b4","#4caf50"]}}}},
{"data":{"values":[{"t":8.15,"p":1.148153}]},
 "mark":{"type":"point","filled":true,"opacity":1,"size":784,"color":"#cfd0d0","shape":"M0,-.28L.28,0L0,.28L-.28,0ZM-1,0L-.75,-.25L-.5,0L-.75,.25ZM1,0L.75,-.25L.5,0L.75,.25ZM0,-1L.5,-.5L.3,-.3L0,-.6L-.3,-.3L-.5,-.5ZM0,1L.5,.5L.3,.3L0,.6L-.3,.3L-.5,.5Z"},
 "encoding":{"x":{"field":"t","type":"quantitative"},"y":{"field":"p","type":"quantitative"}}},
{"data":{"values":[{"t":8.267,"p":1.148153,"label":"@ The Trading Circle"}]},
 "mark":{"type":"text","color":"#d0d1d1","fontSize":20.2,"font":"Noto Sans","align":"left","baseline":"middle"},
 "encoding":{"x":{"field":"t","type":"quantitative"},"y":{"field":"p","type":"quantitative"},"text":{"field":"label"}}}
]
}
